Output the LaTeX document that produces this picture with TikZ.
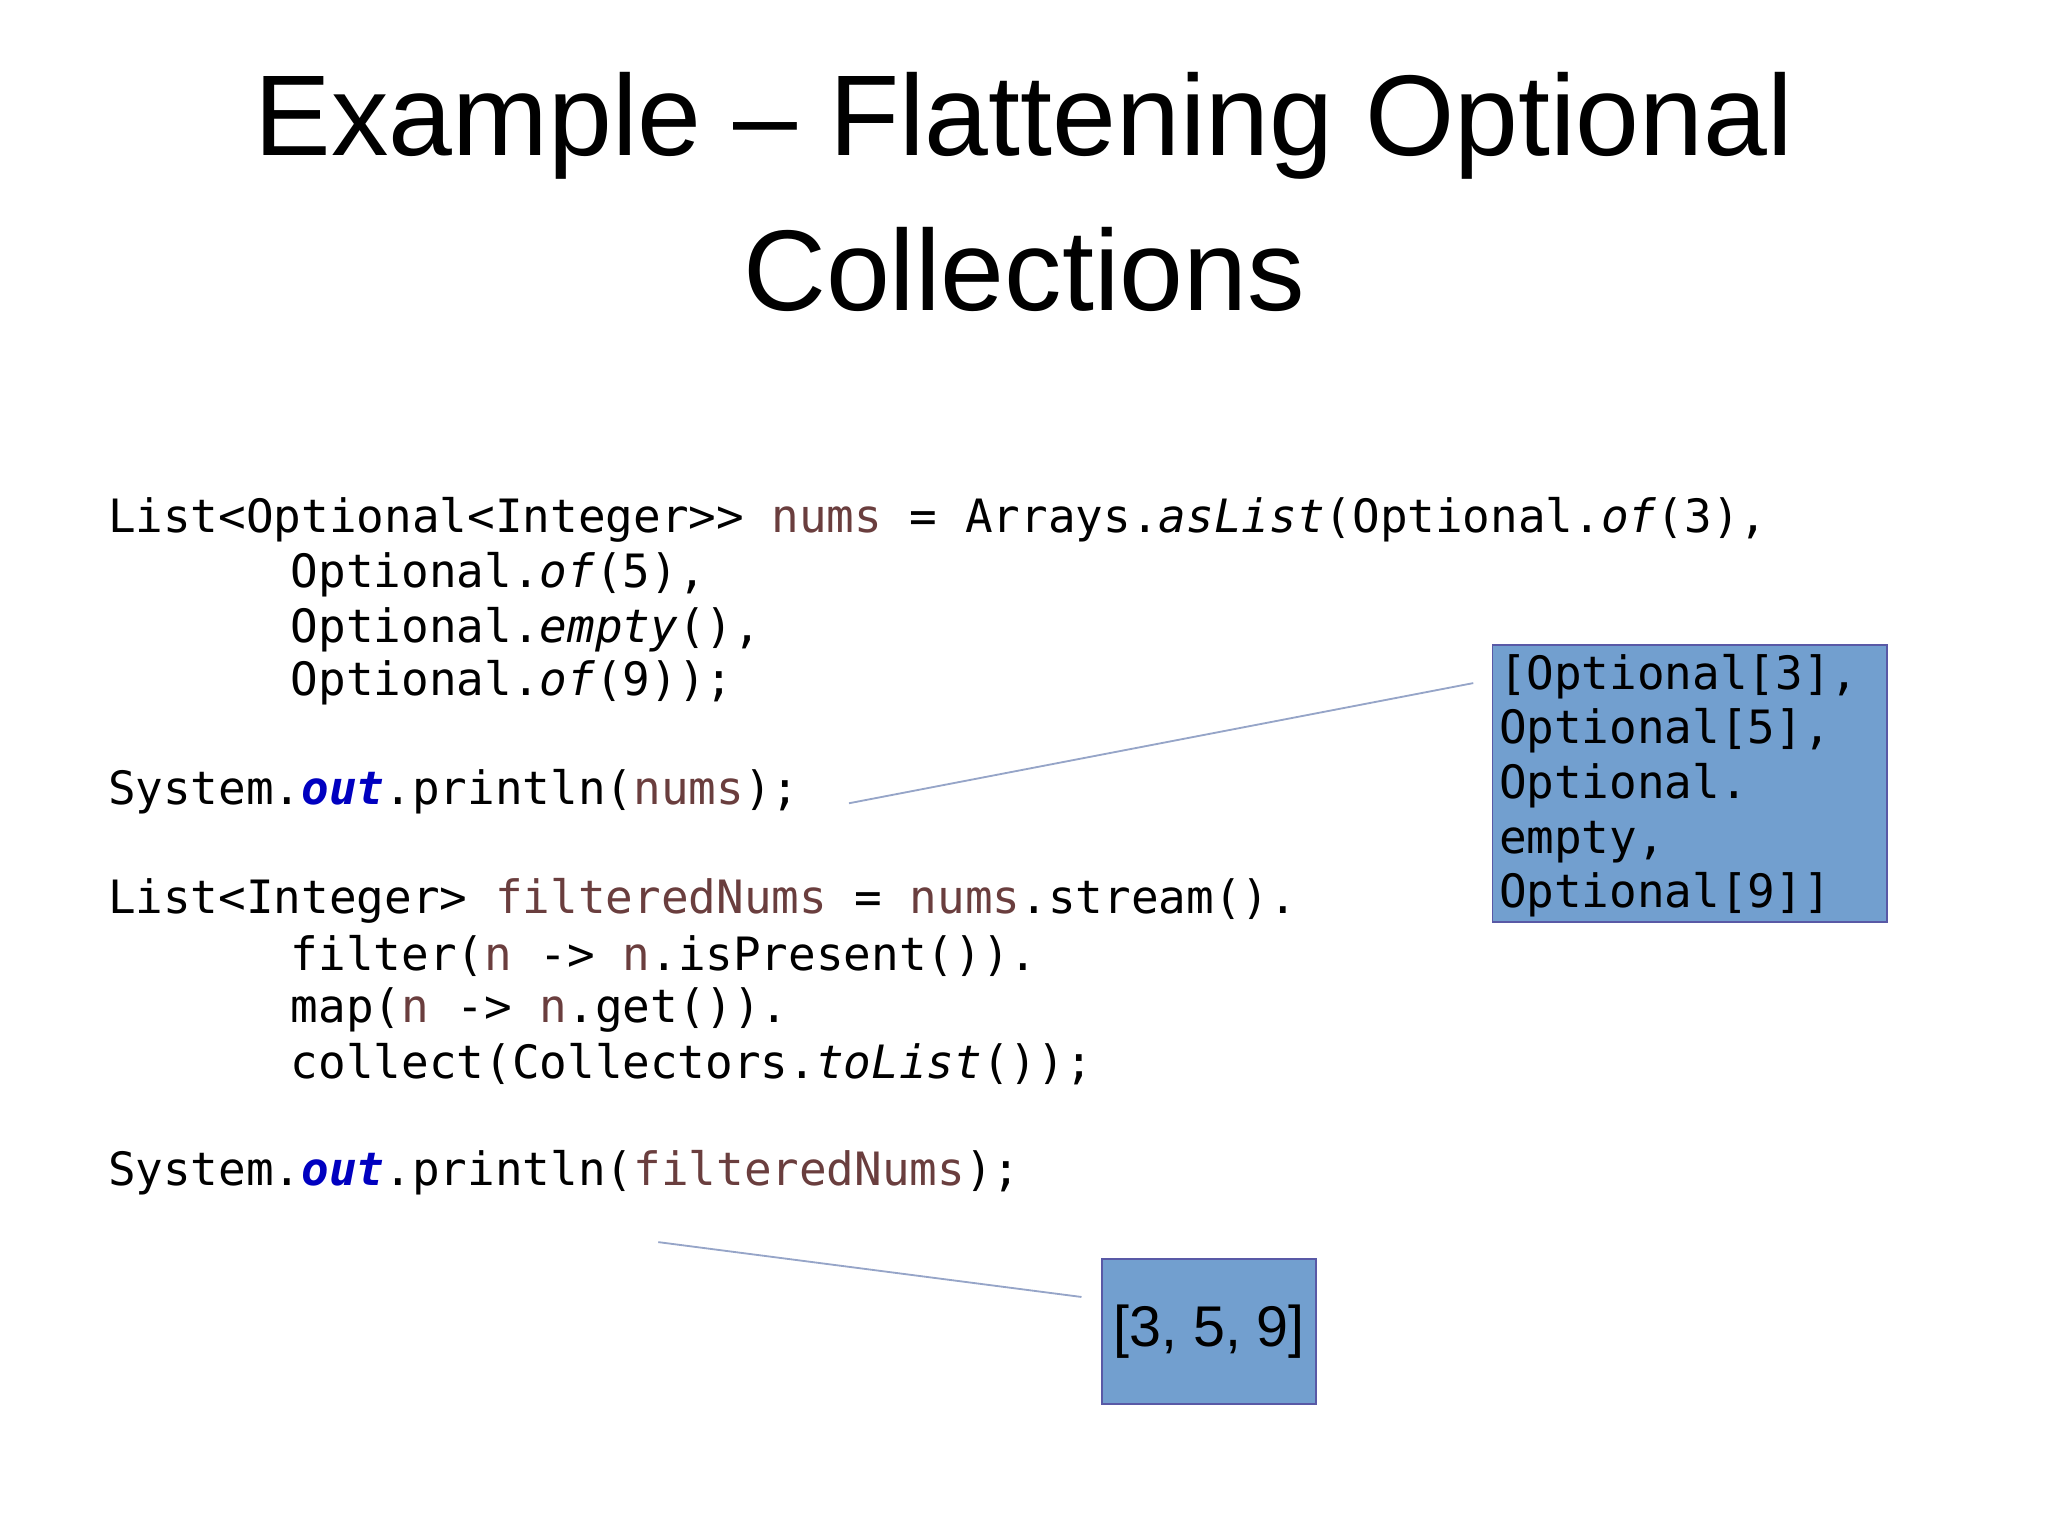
\documentclass[tikz,border=0pt]{standalone}
\usepackage{fontspec}
\setmainfont{Liberation Sans}
\setmonofont{DejaVu Sans Mono}
\begin{document}
\begin{tikzpicture}[x=0.01cm,y=-0.01cm,
  code/.style={anchor=west,inner sep=0pt,font=\ttfamily\fontsize{10}{11.9}\selectfont},
  outbox/.style={draw=blue!30!gray,fill={rgb,255:red,114;green,159;blue,207},anchor=north west,inner sep=0pt},
  conn/.style={draw={rgb,255:red,150;green,165;blue,200},line width=0.4pt}]
\definecolor{vr}{RGB}{106,62,62}
\definecolor{kw}{RGB}{0,0,192}
\newcommand{\V}[1]{\textcolor{vr}{#1}}
\newcommand{\K}{\textcolor{kw}{\bfseries\itshape out}}
\useasboundingbox (0,0) rectangle (1568,1176);
\node[font=\fontsize{25}{28}\selectfont,align=center] (title) at (784,147) {Example – Flattening Optional\\[0.2cm]Collections};
\node[code] (l1) at (82,398) {List<Optional<Integer>{}> \V{nums} = Arrays.\textit{asList}(Optional.\textit{of}(3),};
\node[code] (l2) at (222,440) {Optional.\textit{of}(5),};
\node[code] (l3) at (222,482) {Optional.\textit{empty}(),};
\node[code] (l4) at (222,523) {Optional.\textit{of}(9));};
\node[code] (l5) at (82,606) {System.\K.println(\V{nums});};
\node[code] (l6) at (82,690) {List<Integer> \V{filteredNums} = \V{nums}.stream().};
\node[code] (l7) at (222,732) {filter(\V{n} -> \V{n}.isPresent()).};
\node[code] (l8) at (222,773) {map(\V{n} -> \V{n}.get()).};
\node[code] (l9) at (222,815) {collect(Collectors.\textit{toList}());};
\node[code] (l10) at (82,898) {System.\K.println(\V{filteredNums});};
\node[outbox,minimum width=3.02cm,minimum height=2.12cm] (b1) at (1142,493) {};
\node[code,anchor=north west,align=left] (b1t) at (1147,500) {[Optional[3],\\ Optional[5],\\ Optional.\\ empty,\\ Optional[9]]};
\node[outbox,minimum width=1.64cm,minimum height=1.11cm] (b2) at (843,963) {};
\node[font=\fontsize{12.5}{14}\selectfont] (b2t) at (b2.center) {[3, 5, 9]};
\coordinate (c1a) at (650,615);
\coordinate (c1b) at (1128,523);
\coordinate (c2a) at (504,951);
\coordinate (c2b) at (828,993);
\draw[conn] (c1a) -- (c1b);
\draw[conn] (c2a) -- (c2b);
\end{tikzpicture}
\end{document}
